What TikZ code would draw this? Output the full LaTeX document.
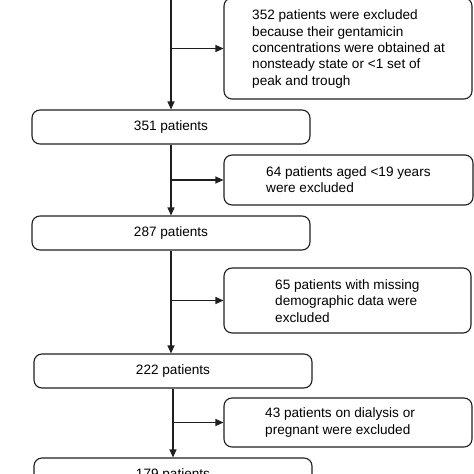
\documentclass[tikz,border=0pt]{standalone}
\usepackage{fontspec}
\setmainfont{Liberation Sans}
\usetikzlibrary{arrows.meta}
\begin{document}
\begin{tikzpicture}[x=1pt,y=-1pt,
  box/.style={draw=black!88, line width=1.1pt, rounded corners=8pt, inner sep=0pt},
  txt/.style={font=\fontsize{13.6}{16.3}\selectfont, align=left, inner sep=0pt, anchor=west},
  ptxt/.style={font=\fontsize{13.6}{16.3}\selectfont},
  arr/.style={draw=black!88, line width=1.1pt, -{Triangle[length=8pt,width=7pt]}}]
\useasboundingbox (0,0) rectangle (474,474);
% exclusion boxes
\node[box, minimum width=248pt, minimum height=101pt] (ex1) at (348,48.5) {};
\node[txt] (ex1t) at (252,49) {352 patients were excluded\\because their gentamicin\\concentrations were obtained at\\nonsteady state or <1 set of\\peak and trough};
\node[box, minimum width=249pt, minimum height=50pt] (ex2) at (348.5,180) {};
\node[txt] (ex2t) at (266,179.5) {64 patients aged <19 years\\were excluded};
\node[box, minimum width=247pt, minimum height=65pt] (ex3) at (347.5,300.5) {};
\node[txt] (ex3t) at (275,301) {65 patients with missing\\demographic data were\\excluded};
\node[box, minimum width=248pt, minimum height=49pt] (ex4) at (348,422.5) {};
\node[txt] (ex4t) at (265,422.5) {43 patients on dialysis or\\pregnant were excluded};
% patient boxes
\node[box, ptxt, minimum width=278pt, minimum height=34pt] (p351) at (171,127) {351 patients};
\node[box, ptxt, minimum width=278pt, minimum height=34pt] (p287) at (171,233) {287 patients};
\node[box, ptxt, minimum width=278pt, minimum height=34pt] (p222) at (173,371) {222 patients};
\node[box, ptxt, minimum width=278pt, minimum height=34pt] (p179) at (173,475) {179 patients};
% connectors
\coordinate (top) at (171,-5);
\draw[arr] (top) -- (p351.north);
\draw[arr] (top |- ex1.west) -- (ex1.west);
\draw[arr] (p351.south) -- (p287.north);
\draw[arr] (p351.south |- ex2.west) -- (ex2.west);
\draw[arr] (p287.south) -- (p287.south |- p222.north);
\draw[arr] (p287.south |- ex3.west) -- (ex3.west);
\draw[arr] (p222.south) -- (p179.north);
\draw[arr] (p222.south |- ex4.west) -- (ex4.west);
\end{tikzpicture}
\end{document}
